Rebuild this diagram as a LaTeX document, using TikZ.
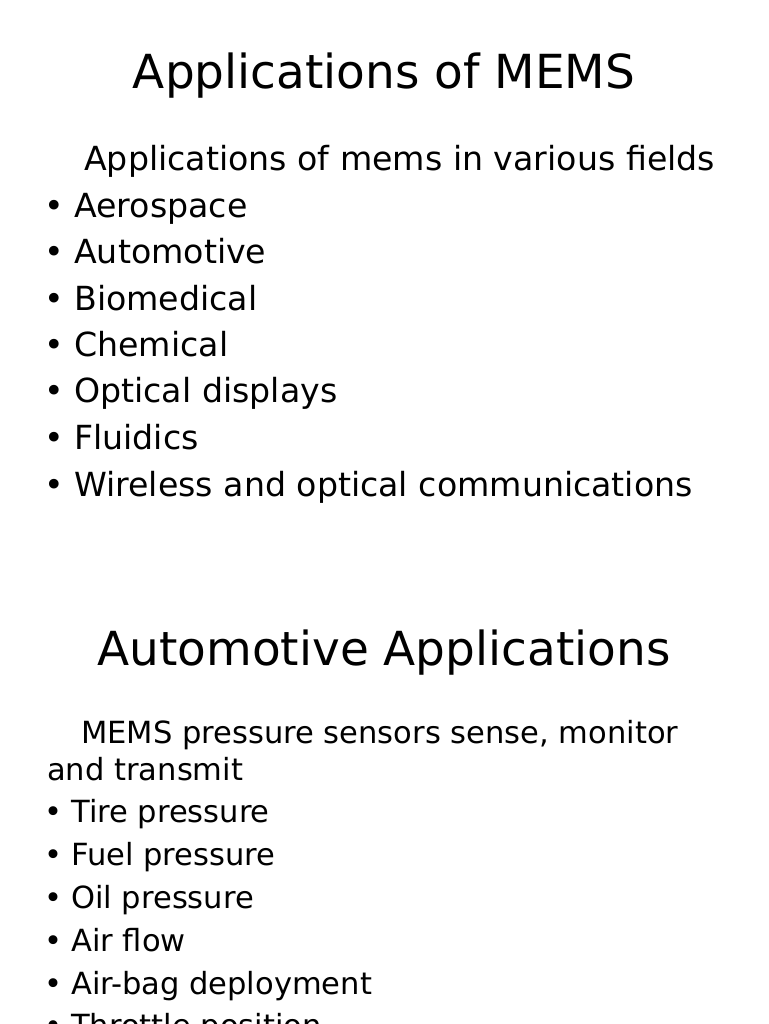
\documentclass[tikz,border=0pt]{standalone}
\usepackage{fontspec}
\setmainfont{DejaVu Sans}
\begin{document}
\begin{tikzpicture}[x=0.75pt,y=-0.75pt,
  title/.style={anchor=base,font=\fontsize{35.2}{40}\selectfont,inner sep=0pt},
  bodyA/.style={anchor=base west,font=\fontsize{24.9}{28}\selectfont,inner sep=0pt},
  bodyB/.style={anchor=base west,font=\fontsize{22.9}{26}\selectfont,inner sep=0pt}]
\useasboundingbox (0,0) rectangle (768,1024);
\clip (0,0) rectangle (768,1024);
\fill[white] (0,0) rectangle (768,1024);
\node[title] (t1) at (384,89) {Applications of MEMS};
\node[bodyA] (i1) at (84,170) {Applications of mems in various fields};
\foreach \y/\t [count=\i] in {217/Aerospace,263/Automotive,310/Biomedical,356/Chemical,402/Optical displays,449/Fluidics,496/Wireless and optical communications}{
  \node[bodyA] (b\i) at (44,\y) {•};
  \node[bodyA] (a\i) at (74,\y) {\t};
}
\node[title] (t2) at (384,665) {Automotive Applications};
\node[bodyB] (i2) at (81,743) {MEMS pressure sensors sense, monitor};
\node[bodyB] (i3) at (47,780) {and transmit};
\foreach \y/\t [count=\i] in {822/Tire pressure,865/Fuel pressure,908/Oil pressure,951/Air flow,994/Air-bag deployment,1036/Throttle position}{
  \node[bodyB] (c\i) at (44,\y) {•};
  \node[bodyB] (d\i) at (71,\y) {\t};
}
\end{tikzpicture}
\end{document}
